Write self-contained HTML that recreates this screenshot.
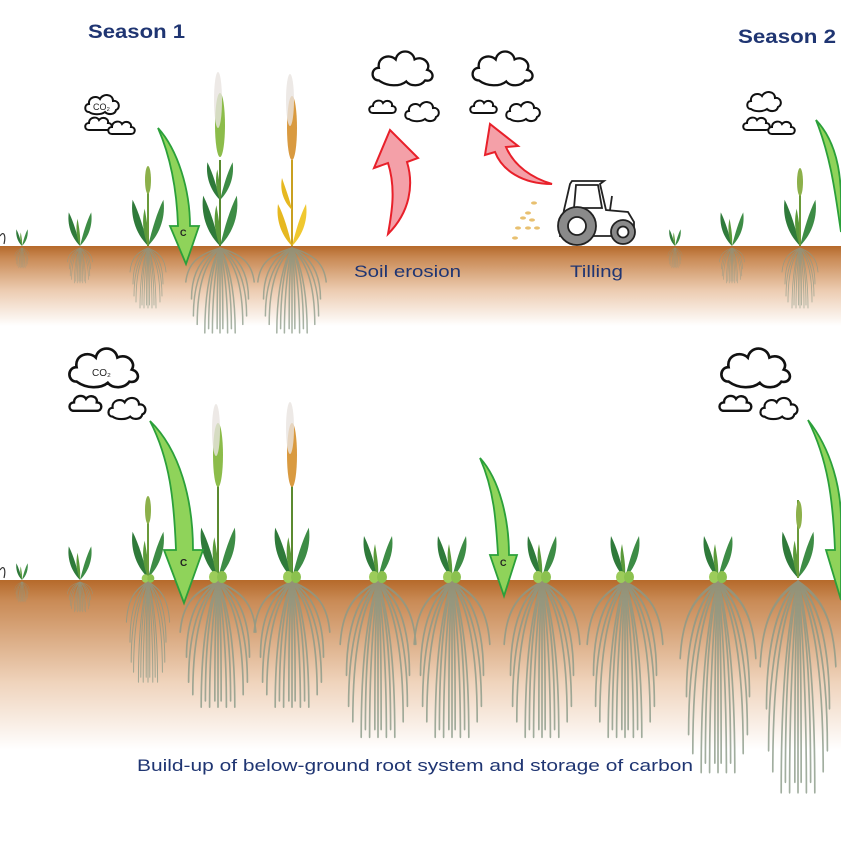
<!DOCTYPE html>
<html><head><meta charset="utf-8"><style>
html,body{margin:0;padding:0;background:#fff}
svg{display:block}
text{font-family:"Liberation Sans",sans-serif}
</style></head><body>
<svg width="841" height="841" viewBox="0 0 841 841" xmlns="http://www.w3.org/2000/svg">
<defs>
<linearGradient id="soil1" x1="0" y1="0" x2="0" y2="1">
<stop offset="0" stop-color="#b5692a"/><stop offset="0.15" stop-color="#c98a55"/><stop offset="0.55" stop-color="#eccbb0"/><stop offset="1" stop-color="#ffffff"/></linearGradient>
<linearGradient id="soil2" x1="0" y1="0" x2="0" y2="1">
<stop offset="0" stop-color="#b5692a"/><stop offset="0.12" stop-color="#c98a55"/><stop offset="0.6" stop-color="#efd3bb"/><stop offset="1" stop-color="#ffffff"/></linearGradient>
<g id="roots" fill="none" stroke="#8a9a88" stroke-width="1.6" stroke-linecap="round">
<path d="M0 0 C-20 10 -30 30 -30 60"/><path d="M0 0 C20 10 30 30 30 60"/>
<path d="M0 0 C-14 15 -24 40 -24 90"/><path d="M0 0 C14 15 24 40 24 90"/>
<path d="M0 0 C-10 20 -16 50 -16 100"/><path d="M0 0 C10 20 16 50 16 100"/>
<path d="M0 0 C-5 25 -8 60 -8 100"/><path d="M0 0 C5 25 8 60 8 100"/>
<path d="M0 0 L0 100"/><path d="M0 0 C-3 30 -3 60 -3 95"/><path d="M0 0 C3 30 3 60 3 95"/>
<path d="M0 0 C-25 8 -34 20 -36 40"/><path d="M0 0 C25 8 34 20 36 40"/>
<path d="M0 0 C-18 14 -28 40 -28 80"/><path d="M0 0 C18 14 28 40 28 80"/>
<path d="M0 0 C-8 20 -12 50 -12 95"/><path d="M0 0 C8 20 12 50 12 95"/>
</g>
<g id="shoot">
<path d="M0 0 C-12 -12 -16 -28 -14 -42 C-8 -30 -4 -16 0 0Z" fill="#2f7a3a"/>
<path d="M0 0 C12 -12 16 -28 14 -42 C8 -30 4 -16 0 0Z" fill="#3d8c45"/>
<path d="M0 0 C-4 -10 -6 -22 -3 -34 C-1 -22 1 -12 0 0Z" fill="#5a9a3a"/>
</g>
<g id="node"><ellipse cx="-4" cy="-5" rx="5" ry="6" fill="#9ccc5a"/><ellipse cx="4" cy="-5" rx="5" ry="6" fill="#8bc14e"/></g>
<g id="cloudB" fill="#fff" stroke="#111" stroke-width="2.2">
<path d="M-22 8 C-30 8 -30 -4 -22 -4 C-24 -14 -12 -18 -6 -12 C-4 -22 10 -22 12 -12 C20 -16 28 -8 24 -2 C32 0 30 10 22 8 C18 14 8 14 4 9 C-2 14 -14 14 -22 8Z"/>
</g>
<g id="cloudS" fill="#fff" stroke="#111" stroke-width="2">
<path d="M-10 4 C-15 4 -15 -3 -10 -3 C-10 -9 -2 -10 0 -6 C3 -10 10 -8 9 -3 C14 -3 14 4 9 4Z"/>
</g>
<g id="cloudM" fill="#fff" stroke="#111" stroke-width="2">
<path d="M-14 6 C-19 6 -19 -2 -14 -2 C-15 -9 -6 -11 -3 -7 C0 -13 10 -12 10 -5 C16 -6 18 2 13 4 C12 9 5 9 2 6 C-2 9 -10 9 -14 6Z"/>
</g>
</defs>

<rect x="0" y="246" width="841" height="80" fill="url(#soil1)"/>
<rect x="0" y="580" width="841" height="170" fill="url(#soil2)"/>

<text x="88" y="38" font-size="19" font-weight="bold" fill="#1f3572" textLength="97" lengthAdjust="spacingAndGlyphs">Season 1</text>
<text x="738" y="43" font-size="19" font-weight="bold" fill="#1f3572" textLength="98" lengthAdjust="spacingAndGlyphs">Season 2</text>
<text x="354" y="277" font-size="17" fill="#1f3572" textLength="107" lengthAdjust="spacingAndGlyphs">Soil erosion</text>
<text x="570" y="277" font-size="17" fill="#1f3572" textLength="53" lengthAdjust="spacingAndGlyphs">Tilling</text>
<text x="137" y="771" font-size="17" fill="#1f3572" textLength="556" lengthAdjust="spacingAndGlyphs">Build-up of below-ground root system and storage of carbon</text>

<g opacity="0.75">
<use href="#roots" transform="translate(22,248) scale(0.2,0.2)"/>
<use href="#roots" transform="translate(80,248) scale(0.35,0.35)"/>
<use href="#roots" transform="translate(148,248) scale(0.5,0.6)"/>
<use href="#roots" transform="translate(220,248) scale(0.95,0.85)"/>
<use href="#roots" transform="translate(292,248) scale(0.95,0.85)"/>
<use href="#roots" transform="translate(675,248) scale(0.2,0.2)"/>
<use href="#roots" transform="translate(732,248) scale(0.35,0.35)"/>
<use href="#roots" transform="translate(800,248) scale(0.5,0.6)"/>
</g>
<use href="#shoot" transform="translate(22,246) scale(0.4)"/>
<use href="#shoot" transform="translate(80,246) scale(0.8)"/>
<use href="#shoot" transform="translate(148,246) scale(1.1)"/>
<path d="M148 246 L148 170" stroke="#6a9a3a" stroke-width="2"/>
<ellipse cx="148" cy="180" rx="3" ry="14" fill="#8cb04a"/>
<path d="M220 246 L220 160" stroke="#5b8a30" stroke-width="2"/>
<use href="#shoot" transform="translate(220,246) scale(1.2)"/>
<use href="#shoot" transform="translate(220,200) scale(0.9)"/>
<ellipse cx="220" cy="125" rx="5" ry="32" fill="#8cbc4a"/>
<ellipse cx="218" cy="100" rx="4" ry="28" fill="#e8e4e0" opacity="0.8"/>
<path d="M292 246 L292 160" stroke="#c9a020" stroke-width="2"/>
<path d="M292 246 C280 234 276 218 278 204 C284 216 288 230 292 246Z" fill="#e6b820"/>
<path d="M292 246 C304 234 308 218 306 204 C300 216 296 230 292 246Z" fill="#f0c830"/>
<path d="M292 210 C282 200 280 188 282 178 C286 190 290 200 292 210Z" fill="#e6b820"/>
<ellipse cx="292" cy="128" rx="5" ry="32" fill="#d99a40"/>
<ellipse cx="290" cy="100" rx="4" ry="26" fill="#e8e4e0" opacity="0.8"/>
<use href="#shoot" transform="translate(675,246) scale(0.4)"/>
<use href="#shoot" transform="translate(732,246) scale(0.8)"/>
<use href="#shoot" transform="translate(800,246) scale(1.1)"/>
<path d="M800 246 L800 170" stroke="#6a9a3a" stroke-width="2"/>
<ellipse cx="800" cy="182" rx="3" ry="14" fill="#8cb04a"/>
<path d="M0 236 C4 230 6 236 4 244" stroke="#333" fill="none" stroke-width="1.2"/>

<use href="#cloudM" transform="translate(103,106)"/>
<text x="93" y="110" font-size="9" fill="#222">CO₂</text>
<use href="#cloudS" transform="translate(99,126)"/>
<use href="#cloudS" transform="translate(122,130)"/>
<use href="#cloudB" transform="translate(402,72) scale(1.05)"/>
<use href="#cloudS" transform="translate(383,109)"/>
<use href="#cloudM" transform="translate(423,113)"/>
<use href="#cloudB" transform="translate(502,72) scale(1.05)"/>
<use href="#cloudS" transform="translate(484,109)"/>
<use href="#cloudM" transform="translate(524,113)"/>
<use href="#cloudM" transform="translate(765,103)"/>
<use href="#cloudS" transform="translate(757,126)"/>
<use href="#cloudS" transform="translate(782,130)"/>

<path d="M388 234 C410 212 414 185 407 162 L418 158 L390 130 L374 168 L388 163 C396 188 392 212 388 234Z" fill="#f4a0a8" stroke="#e8202a" stroke-width="2"/>
<path d="M552 184 C522 184 502 170 495 152 L485 155 L490 124 L518 146 L506 147 C514 166 532 178 552 184Z" fill="#f4a0a8" stroke="#e8202a" stroke-width="2"/>

<g fill="#e8c070">
<ellipse cx="534" cy="203" rx="3" ry="1.6"/><ellipse cx="528" cy="213" rx="3" ry="1.6"/><ellipse cx="523" cy="218" rx="3" ry="1.6"/><ellipse cx="532" cy="220" rx="3" ry="1.6"/><ellipse cx="518" cy="228" rx="3" ry="1.6"/><ellipse cx="528" cy="228" rx="3" ry="1.6"/><ellipse cx="515" cy="238" rx="3" ry="1.6"/><ellipse cx="537" cy="228" rx="3" ry="1.6"/>
</g>
<g stroke="#222" stroke-width="1.8" fill="#fff">
<path d="M572 181 L604 181 L600 184 L606 210 L628 212 L634 222 L634 236 L560 236 L564 210 L570 184Z"/>
<path d="M576 185 L598 185 L602 208 L574 208Z"/>
<path d="M610 210 L612 196" fill="none"/>
<circle cx="577" cy="226" r="19" fill="#8a8a8a"/><circle cx="577" cy="226" r="9" fill="#fff"/>
<circle cx="623" cy="232" r="12" fill="#8a8a8a"/><circle cx="623" cy="232" r="5.5" fill="#fff"/>
</g>

<path d="M158 128 C178 150 190 190 190 226 L199 226 L186 264 L170 226 L178 226 C177 195 172 160 158 128Z" fill="#8fd35a" stroke="#2ba03a" stroke-width="1.8"/>
<text x="180" y="236" font-size="9" font-weight="bold" fill="#222">C</text>
<path d="M816 120 C835 140 841 170 841 200 L841 232 C836 200 832 160 816 120Z" fill="#8fd35a" stroke="#2ba03a" stroke-width="1.8"/>

<g opacity="0.8">
<use href="#roots" transform="translate(22,582) scale(0.2,0.2)"/>
<use href="#roots" transform="translate(80,582) scale(0.35,0.3)"/>
<use href="#roots" transform="translate(148,582) scale(0.6,1.0)"/>
<use href="#roots" transform="translate(218,582) scale(1.05,1.25)"/>
<use href="#roots" transform="translate(292,582) scale(1.05,1.25)"/>
<use href="#roots" transform="translate(378,582) scale(1.05,1.55)"/>
<use href="#roots" transform="translate(452,582) scale(1.05,1.55)"/>
<use href="#roots" transform="translate(542,582) scale(1.05,1.55)"/>
<use href="#roots" transform="translate(625,582) scale(1.05,1.55)"/>
<use href="#roots" transform="translate(718,582) scale(1.05,1.9)"/>
<use href="#roots" transform="translate(798,582) scale(1.05,2.1)"/>
</g>
<use href="#shoot" transform="translate(22,580) scale(0.4)"/>
<use href="#shoot" transform="translate(80,580) scale(0.8)"/>
<use href="#shoot" transform="translate(148,578) scale(1.1)"/>
<path d="M148 578 L148 500" stroke="#6a9a3a" stroke-width="2"/>
<ellipse cx="148" cy="510" rx="3" ry="14" fill="#8cb04a"/>
<use href="#node" transform="translate(148,582) scale(0.7)"/>
<path d="M218 578 L218 480" stroke="#5b8a30" stroke-width="2"/>
<use href="#shoot" transform="translate(218,578) scale(1.2)"/>
<ellipse cx="218" cy="455" rx="5" ry="32" fill="#8cbc4a"/>
<ellipse cx="216" cy="430" rx="4" ry="26" fill="#e8e4e0" opacity="0.8"/>
<use href="#node" transform="translate(218,582)"/>
<path d="M292 578 L292 480" stroke="#5b8a30" stroke-width="2"/>
<use href="#shoot" transform="translate(292,578) scale(1.2)"/>
<ellipse cx="292" cy="455" rx="5" ry="32" fill="#d99a40"/>
<ellipse cx="290" cy="428" rx="4" ry="26" fill="#e8e4e0" opacity="0.8"/>
<use href="#node" transform="translate(292,582)"/>
<g>
<use href="#shoot" transform="translate(378,578)"/><use href="#node" transform="translate(378,582)"/>
<use href="#shoot" transform="translate(452,578)"/><use href="#node" transform="translate(452,582)"/>
<use href="#shoot" transform="translate(542,578)"/><use href="#node" transform="translate(542,582)"/>
<use href="#shoot" transform="translate(625,578)"/><use href="#node" transform="translate(625,582)"/>
<use href="#shoot" transform="translate(718,578)"/><use href="#node" transform="translate(718,582)"/>
<use href="#shoot" transform="translate(798,578) scale(1.1)"/>
</g>
<path d="M798 578 L798 500" stroke="#6a9a3a" stroke-width="2"/>
<ellipse cx="799" cy="515" rx="3" ry="14" fill="#8cb04a"/>
<path d="M0 570 C4 564 6 570 4 578" stroke="#333" fill="none" stroke-width="1.2"/>

<use href="#cloudB" transform="translate(103,372) scale(1.2)"/>
<text x="92" y="376" font-size="10" fill="#222">CO₂</text>
<use href="#cloudS" transform="translate(86,406) scale(1.2)"/>
<use href="#cloudM" transform="translate(128,410) scale(1.1)"/>
<use href="#cloudB" transform="translate(755,372) scale(1.2)"/>
<use href="#cloudS" transform="translate(736,406) scale(1.2)"/>
<use href="#cloudM" transform="translate(780,410) scale(1.1)"/>

<path d="M150 421 C180 450 193 500 193 550 L203 550 L184 603 L164 550 L176 550 C174 500 170 460 150 421Z" fill="#8fd35a" stroke="#2ba03a" stroke-width="1.8"/>
<text x="180" y="566" font-size="10" font-weight="bold" fill="#222">C</text>
<path d="M480 458 C500 480 509 520 509 555 L517 555 L504 596 L490 555 L498 555 C496 520 494 490 480 458Z" fill="#8fd35a" stroke="#2ba03a" stroke-width="1.8"/>
<text x="500" y="566" font-size="9" font-weight="bold" fill="#222">C</text>
<path d="M808 420 C832 450 841 490 841 520 L841 600 L826 550 L835 550 C833 500 828 460 808 420Z" fill="#8fd35a" stroke="#2ba03a" stroke-width="1.8"/>
</svg>
</body></html>
